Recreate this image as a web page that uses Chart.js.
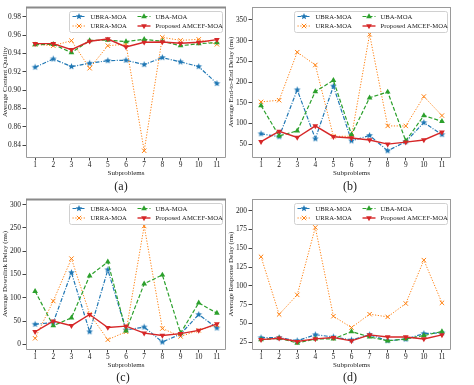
<!DOCTYPE html>
<html><head><meta charset="utf-8">
<script src="https://cdn.jsdelivr.net/npm/chart.js@4.4.0/dist/chart.umd.min.js"></script>
<style>
html,body{margin:0;padding:0;background:#fff;}
body{width:474px;height:385px;position:relative;overflow:hidden;font-family:"Liberation Serif",serif;}
canvas{position:absolute;}
.lab{position:absolute;font-family:"Liberation Serif",serif;font-size:12px;color:#222;transform:translate(-50%,-50%);white-space:nowrap;}
</style></head><body>
<canvas id="ca"></canvas><canvas id="cb"></canvas><canvas id="cc"></canvas><canvas id="cd"></canvas>
<div class="lab" style="left:121px;top:186px">(a)</div>
<div class="lab" style="left:350px;top:186px">(b)</div>
<div class="lab" style="left:123px;top:377px">(c)</div>
<div class="lab" style="left:350px;top:377px">(d)</div>
<script>
// ---------- data ----------
const subproblems = ['1','2','3','4','5','6','7','8','9','10','11'];
const seriesNames = ['UBRA-MOA','URRA-MOA','UBA-MOA','Proposed AMCEF-MOA'];

const qualityUBRA = [0.9249,0.9339,0.9256,0.9292,0.9321,0.9325,0.9278,0.9354,0.9307,0.9256,0.9071];
const qualityURRA = [0.9499,0.9484,0.9539,0.9238,0.9484,0.9500,0.8338,0.9575,0.9542,0.9553,0.9499];
const qualityUBA  = [0.9495,0.9499,0.9408,0.9540,0.9546,0.9528,0.9553,0.9532,0.9484,0.9506,0.9517];
const qualityProp = [0.9506,0.9506,0.9441,0.9532,0.9557,0.9470,0.9521,0.9524,0.9510,0.9521,0.9550];
const qualityTicks = [0.84,0.86,0.88,0.90,0.92,0.94,0.96,0.98];

const e2eUBRA = [75,68,181,63,190,58,71,34,56,102,73];
const e2eURRA = [152,156,272,241,69,69,315,94,94,165,119];
const e2eUBA  = [143,70,82,177,204,73,162,176,58,119,105];
const e2eProp = [56,81,66,94,68,65,60,50,55,60,79];
const e2eTicks = [50,100,150,200,250,300,350];

const dlUBRA = [43,47,154,27,160,31,37,5,22,64,35];
const dlURRA = [13,93,184,65,10,27,254,34,17,30,42];
const dlUBA  = [114,40,57,147,177,29,130,149,24,89,67];
const dlProp = [27,50,40,64,36,39,24,19,23,30,44];
const dlTicks = [0,50,100,150,200,250,300];

const rspUBRA = [31,31,27,35,32,28,35,27,29,36.5,37.5];
const rspURRA = [138.6,62,88,177.7,59.6,44.5,62.3,58.7,76.5,134.2,77.4];
const rspUBA  = [28.5,30.3,24,29.4,29.4,39.2,32,26.8,29.4,33.9,39.2];
const rspProp = [28.5,30.3,25.9,29.4,31.2,26.8,34.8,32,32,29.4,34.8];
const rspTicks = [25,50,75,100,125,150,175,200];

// ---------- styles ----------
const FONT = "'Liberation Serif', 'Times New Roman', serif";
const COLORS = ['#1f77b4','#ff7f0e','#2ca02c','#d62728'];
const DASHES = [[4,1.5,1,1.5],[1.2,1.6],[4,2],[]];
const WIDTHS = [1.2,1,1.2,1.4];
const MARKERS = ['star','x','up','down'];

function starPath(g, cx, cy, r) {
  g.beginPath();
  for (let i = 0; i < 10; i++) {
    const rr = i % 2 === 0 ? r : r * 0.45;
    const a = -Math.PI / 2 + i * Math.PI / 5;
    const px = cx + rr * Math.cos(a), py = cy + rr * Math.sin(a);
    if (i === 0) g.moveTo(px, py); else g.lineTo(px, py);
  }
  g.closePath();
}
function starImage(color, r) {
  const c = document.createElement('canvas');
  const s = Math.ceil(r * 2 + 2);
  c.width = c.height = s;
  const g = c.getContext('2d');
  g.fillStyle = color;
  starPath(g, s / 2, s / 2, r);
  g.fill();
  return c;
}
const STAR = starImage(COLORS[0], 3.5);

function drawMarker(g, type, x, y, color) {
  g.save();
  g.setLineDash([]);
  g.fillStyle = color; g.strokeStyle = color;
  if (type === 'star') { starPath(g, x, y, 3.5); g.fill(); }
  else if (type === 'x') {
    g.lineWidth = 1; const d = 2.2;
    g.beginPath(); g.moveTo(x - d, y - d); g.lineTo(x + d, y + d);
    g.moveTo(x - d, y + d); g.lineTo(x + d, y - d); g.stroke();
  } else {
    const r = 3.3, s = type === 'up' ? 1 : -1;
    g.beginPath();
    g.moveTo(x, y - s * r);
    g.lineTo(x + r * 0.866, y + s * r * 0.5);
    g.lineTo(x - r * 0.866, y + s * r * 0.5);
    g.closePath(); g.fill();
  }
  g.restore();
}

function makeDatasets(vals) {
  return vals.map((v, i) => {
    const ds = {
      label: seriesNames[i], data: v,
      borderColor: COLORS[i], backgroundColor: COLORS[i],
      borderWidth: WIDTHS[i], borderDash: DASHES[i],
      pointBorderColor: COLORS[i], pointBackgroundColor: COLORS[i],
      pointBorderWidth: i === 1 ? 1 : 0,
      tension: 0, fill: false, order: 3 - i
    };
    if (i === 0) { ds.pointStyle = STAR; ds.pointRadius = 3.5; }
    if (i === 1) { ds.pointStyle = 'crossRot'; ds.pointRadius = 3.1; }
    if (i === 2) { ds.pointStyle = 'triangle'; ds.pointRadius = 3.3; }
    if (i === 3) { ds.pointStyle = 'triangle'; ds.pointRotation = 180; ds.pointRadius = 3.3; }
    return ds;
  });
}

const framePlugin = {
  id: 'frame',
  beforeDatasetsDraw(chart) {
    const g = chart.ctx, a = chart.chartArea;
    g.save();
    g.strokeStyle = '#9a9a9a'; g.lineWidth = 1;
    g.beginPath();
    g.moveTo(a.left + 0.5, a.top); g.lineTo(a.left + 0.5, a.bottom + 0.5);
    g.lineTo(a.right - 0.5, a.bottom + 0.5); g.lineTo(a.right - 0.5, a.top);
    g.stroke();
    g.strokeStyle = chart.options.plugins.frame.topColor;
    g.lineWidth = chart.options.plugins.frame.topWidth;
    g.beginPath();
    g.moveTo(a.left, a.top + 0.5); g.lineTo(a.right, a.top + 0.5); g.stroke();
    g.restore();
  }
};

const legendPlugin = {
  id: 'boxLegend',
  afterDraw(chart) {
    const g = chart.ctx, a = chart.chartArea;
    const W = 153, H = 21;
    const x0 = a.right - 4 - W, y0 = a.top + 4;
    g.save();
    g.beginPath();
    if (g.roundRect) g.roundRect(x0 + 0.5, y0 + 0.5, W, H, 2); else g.rect(x0 + 0.5, y0 + 0.5, W, H);
    g.fillStyle = 'rgba(255,255,255,0.85)'; g.fill();
    g.strokeStyle = '#d0d0d0'; g.lineWidth = 1; g.stroke();
    const cols = [x0 + 3.5, x0 + 68.5];
    const rows = [y0 + 5.5, y0 + 15];
    const place = [[0,0],[1,0],[0,1],[1,1]]; // [row, col] for each series
    g.font = "6.7px " + FONT;
    g.textBaseline = 'middle'; g.textAlign = 'left';
    chart.data.datasets.forEach((ds, i) => {
      const [r, c] = place[i];
      const lx = cols[c], ly = rows[r];
      g.save();
      g.strokeStyle = COLORS[i]; g.lineWidth = WIDTHS[i]; g.setLineDash(DASHES[i]);
      g.beginPath(); g.moveTo(lx, ly); g.lineTo(lx + 13, ly); g.stroke();
      g.restore();
      drawMarker(g, MARKERS[i], lx + 6.5, ly, COLORS[i]);
      g.fillStyle = '#222';
      g.fillText(ds.label, lx + 18, ly + 0.5);
    });
    g.restore();
  }
};

function makeChart(id, p) {
  const el = document.getElementById(id);
  el.style.left = p.left + 'px'; el.style.top = p.top + 'px';
  el.width = p.w; el.height = p.h;
  el.style.width = p.w + 'px'; el.style.height = p.h + 'px';
  const tickFont = { family: FONT, size: 7.4 };
  const titleFont = { family: FONT, size: 7 };
  new Chart(el, {
    type: 'line',
    data: { labels: subproblems, datasets: makeDatasets(p.values) },
    options: {
      responsive: false, animation: false, devicePixelRatio: 1,
      layout: { padding: { top: p.padTop, right: p.padRight, left: 0, bottom: 0 } },
      plugins: {
        legend: { display: false }, tooltip: { enabled: false },
        frame: { topColor: p.topColor, topWidth: p.topWidth }
      },
      scales: {
        x: {
          type: 'category', offset: true,
          grid: { offset: false, display: true, drawOnChartArea: false, drawTicks: true, tickLength: 3.5, tickColor: '#444' },
          border: { display: false },
          ticks: { font: tickFont, color: '#222', padding: 0, maxRotation: 0, autoSkip: false },
          title: { display: true, text: 'Subproblems', font: titleFont, color: '#222', padding: { top: 0, bottom: 5 } },
          afterFit: s => { s.height = 25; }
        },
        y: {
          min: p.min, max: p.max,
          afterBuildTicks: s => { s.ticks = p.ticks.map(v => ({ value: v })); },
          grid: { display: true, drawOnChartArea: false, drawTicks: true, tickLength: 3.5, tickColor: '#444' },
          border: { display: false },
          ticks: { font: tickFont, color: '#222', padding: 1.5, callback: p.fmt },
          title: { display: true, text: p.ytitle, font: titleFont, color: '#222', padding: { top: 1, bottom: 0 } },
          afterFit: s => { s.width = 26; }
        }
      }
    },
    plugins: [framePlugin, legendPlugin]
  });
}

makeChart('ca', { left: 0, top: 0, w: 237, h: 182, padTop: 7, padRight: 11,
  values: [qualityUBRA, qualityURRA, qualityUBA, qualityProp],
  min: 0.827, max: 0.9906, ticks: qualityTicks, fmt: v => v.toFixed(2),
  ytitle: 'Average Content Quality', topColor: '#8a8a8a', topWidth: 2 });
makeChart('cb', { left: 226, top: 0, w: 248, h: 182, padTop: 7, padRight: 23,
  values: [e2eUBRA, e2eURRA, e2eUBA, e2eProp],
  min: 19, max: 381, ticks: e2eTicks, fmt: v => String(Math.round(v)),
  ytitle: 'Average End-to-End Delay (ms)', topColor: '#9a9a9a', topWidth: 1 });
makeChart('cc', { left: 0, top: 190, w: 237, h: 184, padTop: 9, padRight: 11,
  values: [dlUBRA, dlURRA, dlUBA, dlProp],
  min: -10, max: 312, ticks: dlTicks, fmt: v => String(Math.round(v)),
  ytitle: 'Average Downlink Delay (ms)', topColor: '#8a8a8a', topWidth: 2 });
makeChart('cd', { left: 226, top: 190, w: 248, h: 184, padTop: 9, padRight: 23,
  values: [rspUBRA, rspURRA, rspUBA, rspProp],
  min: 16, max: 215.5, ticks: rspTicks, fmt: v => String(Math.round(v)),
  ytitle: 'Average Response Delay (ms)', topColor: '#9a9a9a', topWidth: 1 });
</script>
</body></html>
